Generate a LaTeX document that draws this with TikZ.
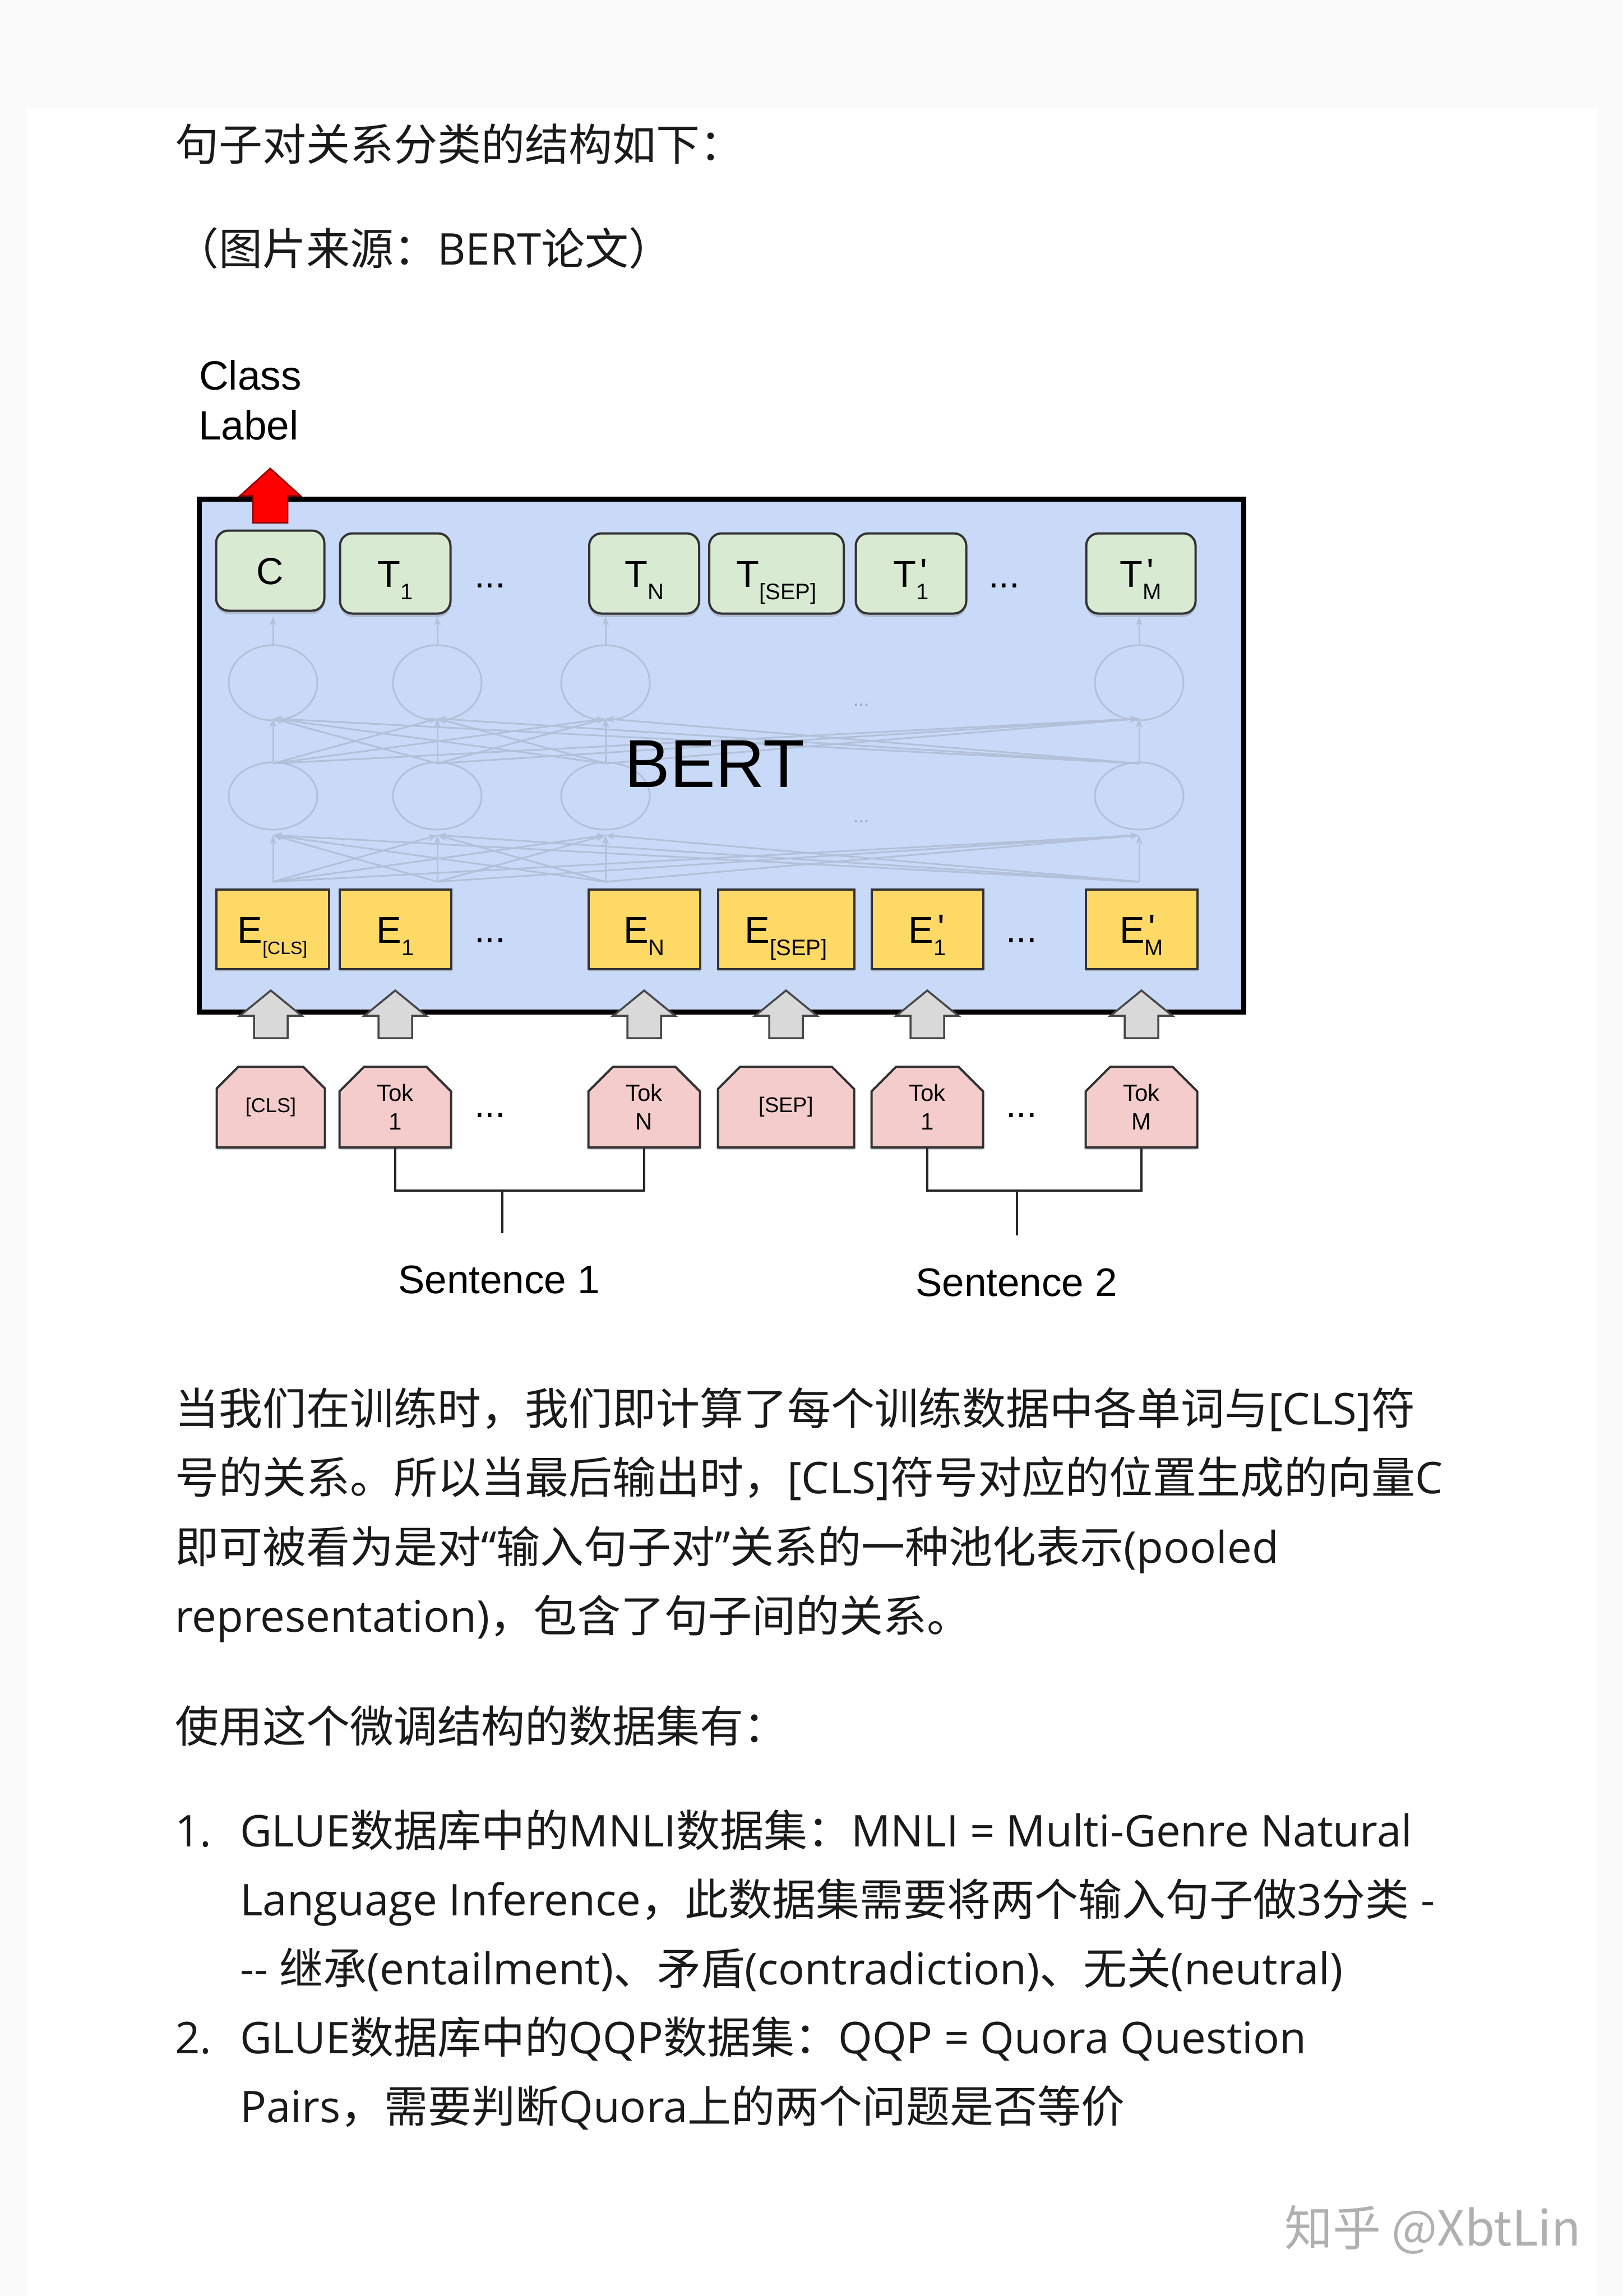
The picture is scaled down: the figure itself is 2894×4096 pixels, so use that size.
\documentclass[tikz,border=0pt]{standalone}
\usepackage{fontspec}
\setmainfont{Open Sans}
\newfontfamily\latf{Open Sans}
\newfontfamily\cjkf{Noto Sans CJK SC}
\newfontfamily\arialf{Liberation Sans}
\usetikzlibrary{arrows.meta,shapes.misc,shadows,calc}

\XeTeXinterchartokenstate=1
\newXeTeXintercharclass\CJKcls
\newcount\cjkcnt
\def\cjkrange#1#2{\cjkcnt=#1\relax\loop\XeTeXcharclass\cjkcnt=\CJKcls\relax\advance\cjkcnt by 1\relax\ifnum\cjkcnt<#2\relax\repeat}
\cjkrange{"4E00}{"A000}
\cjkrange{"3000}{"3040}
\cjkrange{"FF00}{"FFF0}
\XeTeXinterchartoks 0 \CJKcls = {\cjkf}
\XeTeXinterchartoks 4095 \CJKcls = {\cjkf}
\XeTeXinterchartoks \CJKcls 0 = {\latf}
\XeTeXinterchartoks \CJKcls 4095 = {\latf}

\definecolor{txt}{HTML}{1A1A1A}
\definecolor{bgc}{HTML}{FAFAFA}
\definecolor{bertblue}{HTML}{C9DAF8}
\definecolor{tgreen}{HTML}{D9EAD3}
\definecolor{eyel}{HTML}{FFD966}
\definecolor{tpink}{HTML}{F4CCCC}
\definecolor{dk}{HTML}{333333}
\definecolor{netc}{HTML}{B2C0D8}
\definecolor{garrf}{HTML}{D9D9D9}
\definecolor{wmc}{HTML}{B0B0B0}

\newcommand\subf{\fontsize{40}{40}\selectfont}
\newcommand\subc{\fontsize{32}{32}\selectfont}
\newcommand\lbl[3]{#1\makebox[0pt][l]{\raisebox{-22pt}{\subf #2}}\makebox[0pt][l]{\hspace{7pt}\raisebox{4pt}{#3}}\hphantom{\subf #2}}
\newcommand\lblc[2]{#1\raisebox{-20pt}{\subc #2}}

\begin{document}
\begin{tikzpicture}[x=1pt,y=-1pt,
  body/.style={anchor=base west, inner sep=0pt, text=txt, font=\latf\fontsize{78}{92}\selectfont},
  dlab/.style={inner sep=0pt, text=black, font=\arialf\fontsize{73}{73}\selectfont},
  tbox/.style={draw=dk, line width=4pt, fill=tgreen, rounded corners=22pt, minimum height=143pt,
    inner sep=0pt, text height=48pt, text depth=0pt, font=\arialf\fontsize{67}{67}\selectfont,
    drop shadow={opacity=0.35, shadow xshift=0pt, shadow yshift=-6pt}},
  ebox/.style={draw=dk, line width=4pt, fill=eyel, minimum height=142pt,
    inner sep=0pt, text height=48pt, text depth=0pt, font=\arialf\fontsize{67}{67}\selectfont,
    drop shadow={opacity=0.3, shadow xshift=0pt, shadow yshift=-4pt}},
  tokbox/.style={chamfered rectangle, chamfered rectangle corners={north west,north east},
    chamfered rectangle xsep=22pt, chamfered rectangle ysep=22pt,
    draw=dk, line width=4pt, fill=tpink, minimum height=144pt, inner sep=0pt, align=center,
    font=\arialf\fontsize{42}{51}\selectfont,
    drop shadow={opacity=0.3, shadow xshift=0pt, shadow yshift=-4pt}},
  dots/.style={inner sep=0pt, font=\arialf\fontsize{67}{67}\selectfont},
  net/.style={draw=netc, line width=3pt},
  netarr/.style={draw=netc, line width=3pt, -{Stealth[length=16pt,width=12pt]}},
  garr/.style={fill=garrf, draw=dk!90, line width=3.5pt, line join=miter},
  rarr/.style={fill=red, draw=red!55!black, line width=2.5pt, line join=miter},
  brk/.style={draw=black!85, line width=3.5pt}
]
\useasboundingbox (0,0) rectangle (2894,4096);
\fill[bgc] (0,0) rectangle (2894,4096);
\fill[white] (47,193) rectangle (2850,4096);

% ---------- headings ----------
\node[body] (h1) at (312,286) {句子对关系分类的结构如下：};
\node[body] (h2) at (312,472) {（图片来源：BERT论文）};

% ---------- diagram ----------
\node[dlab, anchor=base west] (cl1) at (355,695) {Class};
\node[dlab, anchor=base west] (cl2) at (354,784) {Label};

\node[draw=black, line width=9pt, fill=bertblue, minimum width=1863pt, minimum height=915pt, inner sep=0pt]
  (bert) at (1286.5,1347.5) {};

% faint network
\foreach \x in {487,780,1080,2032} {
  \draw[net] (\x,1218) ellipse [x radius=79, y radius=67];
  \draw[net] (\x,1420) ellipse [x radius=79, y radius=60];
  \draw[netarr] (\x,1151) -- (\x,1100);
}
\foreach \a in {487,780,1080,2032} {
  \foreach \b in {487,780,1080,2032} {
    \draw[netarr] (\a,1573) -- (\b,1490);
    \draw[netarr] (\a,1362) -- (\b,1282);
  }
}
\node[inner sep=0pt, text=netc!85!black, font=\arialf\fontsize{34}{34}\selectfont] (nd1) at (1536,1258) {...};
\node[inner sep=0pt, text=netc!85!black, font=\arialf\fontsize{34}{34}\selectfont] (nd2) at (1536,1466) {...};

\node[inner sep=0pt, anchor=base, font=\arialf\fontsize{121}{121}\selectfont] (bertlbl) at (1275,1404) {BERT};

% output row
\node[tbox, minimum width=193pt] (C)    at (482,1018) {C};
\node[tbox, minimum width=197pt] (T1)   at (705,1023) {\lbl{T}{1}{}};
\node[dots] (td1) at (874,1045) {...};
\node[tbox, minimum width=196pt] (TN)   at (1149,1023) {\lbl{T}{N}{}};
\node[tbox, minimum width=240pt] (TS)   at (1385,1023) {\lbl{T}{[SEP]}{}};
\node[tbox, minimum width=197pt] (T1p)  at (1625,1023) {\lbl{T}{1}{'}};
\node[dots] (td2) at (1791,1045) {...};
\node[tbox, minimum width=195pt] (TMp)  at (2035,1023) {\lbl{T}{M}{'}};

% embedding row
\node[ebox, minimum width=201pt] (Ecls) at (486,1658) {\lblc{E}{[CLS]}};
\node[ebox, minimum width=199pt] (E1)   at (705,1658) {\lbl{E}{1}{}};
\node[dots] (ed1) at (874,1678) {...};
\node[ebox, minimum width=199pt] (EN)   at (1149,1658) {\lbl{E}{N}{}};
\node[ebox, minimum width=243pt] (Es)   at (1402,1658) {\lbl{E}{[SEP]}{}};
\node[ebox, minimum width=199pt] (E1p)  at (1654,1658) {\lbl{E}{1}{'}};
\node[dots] (ed2) at (1822,1678) {...};
\node[ebox, minimum width=199pt] (EMp)  at (2036,1658) {\lbl{E}{M}{'}};

% input tokens
\node[tokbox, minimum width=193pt, font=\arialf\fontsize{36}{36}\selectfont] (cls) at (483,1975) {[CLS]};
\node[tokbox, minimum width=199pt] (tok1)  at (705,1975) {Tok\\1};
\node[dots] (kd1) at (874,1990) {...};
\node[tokbox, minimum width=199pt] (tokN)  at (1149,1975) {Tok\\N};
\node[tokbox, minimum width=243pt, font=\arialf\fontsize{38}{38}\selectfont] (sep) at (1402,1975) {[SEP]};
\node[tokbox, minimum width=199pt] (tok1p) at (1654,1975) {Tok\\1};
\node[dots] (kd2) at (1822,1990) {...};
\node[tokbox, minimum width=199pt] (tokM)  at (2036,1975) {Tok\\M};

% gray input arrows
\foreach \t in {cls,tok1,tokN,sep,tok1p,tokM} {
  \begin{scope}[shift={(\t.north)}]
    \draw[garr] (-30,-49) -- (-30,-89) -- (-55,-89) -- (0,-134) -- (55,-89) -- (30,-89) -- (30,-49) -- cycle;
  \end{scope}
}

% red output arrow
\begin{scope}[shift={(C.north)}]
  \draw[rarr] (-31,-12) -- (-31,-60) -- (-54,-60) -- (0,-109) -- (54,-60) -- (31,-60) -- (31,-12) -- cycle;
\end{scope}

% sentence brackets
\coordinate (s1top) at (896,2124);
\coordinate (s1bot) at (896,2200);
\coordinate (s2top) at (1814,2124);
\coordinate (s2bot) at (1814,2204);
\draw[brk] (tok1.south) |- (s1top) -| (tokN.south);
\draw[brk] (s1top) -- (s1bot);
\draw[brk] (tok1p.south) |- (s2top) -| (tokM.south);
\draw[brk] (s2top) -- (s2bot);
\node[inner sep=0pt, anchor=base, font=\arialf\fontsize{71}{71}\selectfont] (sent1) at (890,2307) {Sentence 1};
\node[inner sep=0pt, anchor=base, font=\arialf\fontsize{71}{71}\selectfont] (sent2) at (1813,2312) {Sentence 2};

% ---------- body text ----------
\node[body] (p1) at (312,2541) {当我们在训练时，我们即计算了每个训练数据中各单词与[CLS]符};
\node[body] (p2) at (312,2664) {号的关系。所以当最后输出时，[CLS]符号对应的位置生成的向量C};
\node[body] (p3) at (312,2788) {即可被看为是对“输入句子对”关系的一种池化表示(pooled};
\node[body] (p4) at (312,2911) {representation)，包含了句子间的关系。};
\node[body] (q1) at (312,3108) {使用这个微调结构的数据集有：};
\node[body] (n1) at (312,3294) {1.};
\node[body] (l1) at (428,3294) {GLUE数据库中的MNLI数据集：MNLI = Multi-Genre Natural};
\node[body] (l2) at (428,3417) {Language Inference，此数据集需要将两个输入句子做3分类 -};
\node[body] (l3) at (428,3540) {-{}- 继承(entailment)、矛盾(contradiction)、无关(neutral)};
\node[body] (n2) at (312,3663) {2.};
\node[body] (l4) at (428,3663) {GLUE数据库中的QQP数据集：QQP = Quora Question};
\node[body] (l5) at (428,3786) {Pairs，需要判断Quora上的两个问题是否等价};

% watermark
\node[anchor=east, inner sep=0pt, text=wmc, font=\cjkf\fontsize{86}{86}\selectfont] (wm) at (2820,3978)
  {\XeTeXinterchartokenstate=0 知乎 @XbtLin};
\end{tikzpicture}
\end{document}
